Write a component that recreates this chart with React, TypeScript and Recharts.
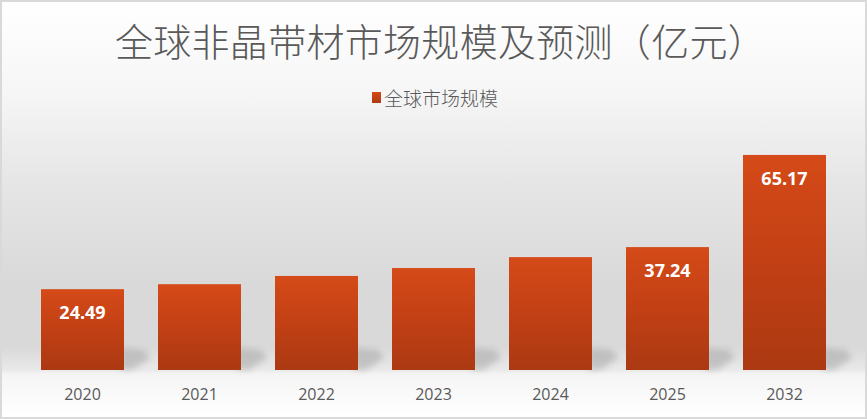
import React from "react";
import { BarChart, Bar, XAxis, YAxis, LabelList } from "recharts";

const categories = ["2020", "2021", "2022", "2023", "2024", "2025", "2032"];
const marketValues = [24.49, 26.0, 28.5, 30.9, 34.2, 37.24, 65.17];
const valueLabels = ["24.49", "", "", "", "", "37.24", "65.17"];
const seriesName = "全球市场规模";
const titleText = "全球非晶带材市场规模及预测（亿元）";

const data = categories.map((c, i) => ({
  year: c,
  value: marketValues[i],
  label: valueLabels[i],
}));

const W = 867;
const H = 419;

const ShadowBar = (props: any) => {
  const { x, y, width, height } = props;
  if (width == null || height == null) return null;
  const yb = y + height;
  return (
    <g>
      <polygon
        points={`${x + width - 4},${yb - 22} ${x + width + 20},${yb - 20} ${x + width + 26},${yb - 12} ${x + width + 8},${yb} ${x + width - 4},${yb}`}
        fill="#9a9a9a"
        opacity={0.45}
        filter="url(#barShadowBlur)"
      />
      <rect x={x} y={y} width={width} height={height} fill="url(#barGrad)" />
    </g>
  );
};

const renderLabel = (props: any) => {
  const { x, y, width, value } = props;
  if (!value) return null;
  return (
    <text
      x={x + width / 2}
      y={y + 30}
      textAnchor="middle"
      fill="#ffffff"
      fontFamily="'Open Sans', sans-serif"
      fontWeight={700}
      fontSize={18}
    >
      {value}
    </text>
  );
};

export default function App() {
  return (
    <div
      style={{
        position: "absolute",
        left: 0,
        top: 0,
        width: W,
        height: H,
        boxSizing: "border-box",
        border: "2px solid #d9d9d9",
        background:
          "linear-gradient(to bottom, #ffffff 0px, #f6f6f6 90px, #e6e6e6 180px, #d9d9d9 280px, #d9d9d9 345px, #e9e9e9 368px, #f4f4f4 372px, #ffffff 412px)",
        overflow: "hidden",
      }}
    >
      <div
        style={{
          position: "absolute",
          left: 7,
          top: 19,
          width: W - 4,
          textAlign: "center",
          fontFamily: "'Noto Sans CJK SC', sans-serif",
          fontWeight: 300,
          fontSize: 38,
          letterSpacing: 0.3,
          lineHeight: "38px",
          color: "#595959",
          whiteSpace: "nowrap",
        }}
      >
        {titleText}
      </div>
      <div
        style={{
          position: "absolute",
          left: 370,
          top: 85,
          display: "flex",
          alignItems: "center",
          fontFamily: "'Noto Sans CJK SC', sans-serif",
          fontWeight: 300,
          fontSize: 19,
          lineHeight: "21px",
          color: "#595959",
          whiteSpace: "nowrap",
        }}
      >
        <span
          style={{
            display: "inline-block",
            width: 9,
            height: 11,
            background: "linear-gradient(#d54a18, #ad3a12)",
            marginRight: 3,
          }}
        />
        {seriesName}
      </div>
      <div style={{ position: "absolute", left: -2, top: -2 }}>
        <BarChart
          width={W}
          height={H}
          data={data}
          margin={{ top: 139, right: 24, bottom: 19, left: 24 }}
          barCategoryGap={17}
        >
          <defs>
            <linearGradient id="barGrad" x1="0" y1="0" x2="0" y2="1">
              <stop offset="0%" stopColor="#d54a18" />
              <stop offset="55%" stopColor="#c03f14" />
              <stop offset="100%" stopColor="#ab3912" />
            </linearGradient>
            <filter id="barShadowBlur" x="-50%" y="-50%" width="200%" height="200%">
              <feGaussianBlur stdDeviation="3" />
            </filter>
          </defs>
          <XAxis
            dataKey="year"
            axisLine={false}
            tickLine={false}
            height={30}
            tickMargin={13}
            tick={{ fill: "#595959", fontSize: 16, fontFamily: "'Open Sans', sans-serif" }}
          />
          <YAxis hide domain={[0, 70]} />
          <Bar
            dataKey="value"
            name={seriesName}
            isAnimationActive={false}
            shape={<ShadowBar />}
          >
            <LabelList dataKey="label" content={renderLabel} />
          </Bar>
        </BarChart>
      </div>
    </div>
  );
}
